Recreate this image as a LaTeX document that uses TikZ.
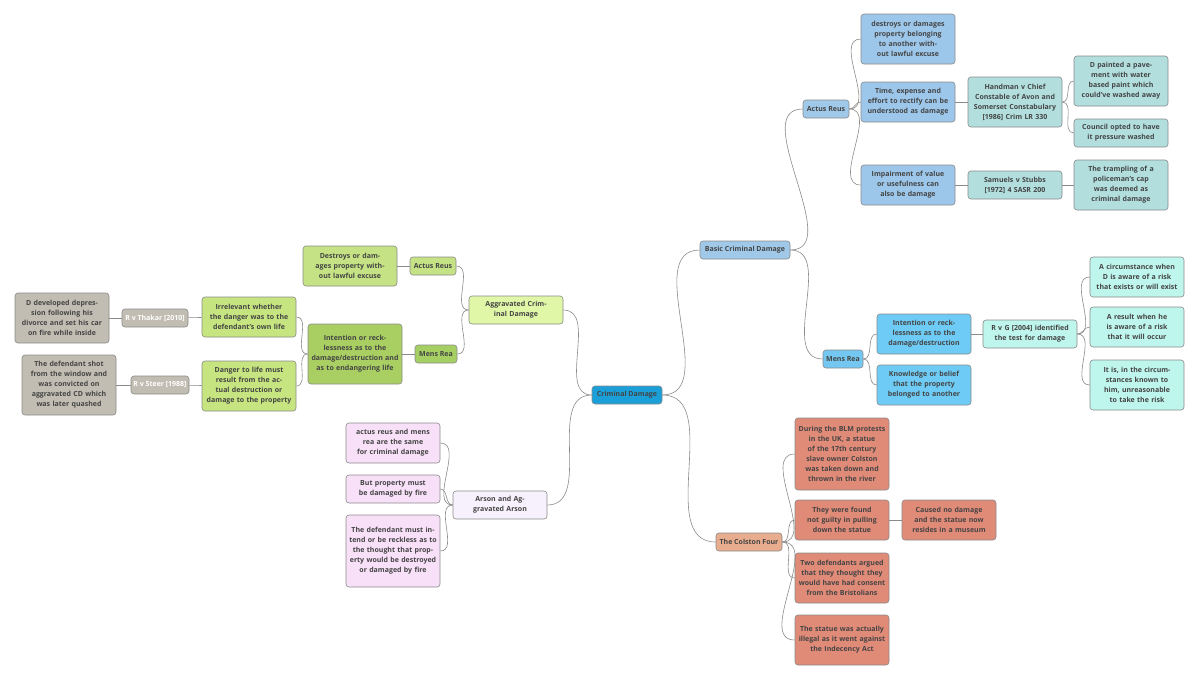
\documentclass[tikz,border=0pt]{standalone}
\usepackage{fontspec}
\setmainfont{Open Sans}
\definecolor{tx}{HTML}{444444}
\definecolor{ln}{HTML}{8A8A8A}
\begin{document}
\begin{tikzpicture}[x=1pt,y=-1pt,
 b/.style={draw=ln,rounded corners=3pt,line width=0.6pt,align=center,font=\fontsize{7}{10}\selectfont\bfseries,text=tx,inner sep=2pt,minimum height=18pt},
 w/.style={b,minimum width=94pt,text width=88pt},
 c/.style={draw=ln,line width=0.6pt},
 r/.style={c,out=0,in=180},
 l/.style={c,out=180,in=0}]
\useasboundingbox (0,0) rectangle (1200,681);
% root
\node[b,fill={rgb,255:red,26;green,159;blue,217},minimum width=70pt] (root) at (627,395) {Criminal Damage};
% basic
\node[b,fill={rgb,255:red,160;green,200;blue,232},minimum width=90pt] (bcd) at (745,250) {Basic Criminal Damage};
\node[b,fill={rgb,255:red,160;green,200;blue,232},minimum width=46pt] (ar) at (826,109) {Actus Reus};
\tikzset{bl/.style={w,fill={rgb,255:red,157;green,199;blue,234},minimum height=#1pt}, te/.style={w,fill={rgb,255:red,178;green,222;blue,222},minimum height=#1pt}}
\node[bl=50] (a1) at (908,39) {destroys or damages property belonging to another without lawful excuse};
\node[bl=40] (a2) at (908,102) {Time, expense and effort to rectify can be understood as damage};
\node[bl=40] (a3) at (908,185) {Impairment of value or usefulness can also be damage};
\node[te=50] (h) at (1015,102) {Handman v Chief Constable of Avon and Somerset Constabulary [1986] Crim LR 330};
\node[te=50] (h1) at (1121,81) {D painted a pavement with water based paint which could've washed away};
\node[te=28] (h2) at (1121,133) {Council opted to have it pressure washed};
\node[te=28] (s) at (1015,185) {Samuels v Stubbs [1972] 4 SASR 200};
\node[te=50] (s1) at (1121,185) {The trampling of a policeman's cap was deemed as criminal damage};
\node[b,fill={rgb,255:red,115;green,199;blue,240},minimum width=40pt] (mr) at (843,359) {Mens Rea};
\tikzset{mb/.style={w,fill={rgb,255:red,110;green,203;blue,245},minimum height=#1pt}, aq/.style={w,fill={rgb,255:red,190;green,245;blue,236},minimum height=#1pt}}
\node[mb=40] (m1) at (924,334) {Intention or recklessness as to the damage/destruction};
\node[mb=40] (m2) at (924,385) {Knowledge or belief that the property belonged to another};
\node[aq=28] (g) at (1030,334) {R v G [2004] identified the test for damage};
\node[aq=40] (g1) at (1137,277) {A circumstance when D is aware of a risk that exists or will exist};
\node[aq=40] (g2) at (1137,327) {A result when he is aware of a risk that it will occur};
\node[aq=50] (g3) at (1137,385) {It is, in the circumstances known to him, unreasonable to take the risk};
% colston
\node[b,fill={rgb,255:red,232;green,173;blue,142},minimum width=66pt] (cf) at (749,542) {The Colston Four};
\tikzset{rd/.style={w,fill={rgb,255:red,224;green,138;blue,120},minimum height=#1pt}}
\node[rd=72] (c1) at (842,454) {During the BLM protests in the UK, a statue of the 17th century slave owner Colston was taken down and thrown in the river};
\node[rd=40] (c2) at (842,520) {They were found not guilty in pulling down the statue};
\node[rd=40] (c3) at (949,520) {Caused no damage and the statue now resides in a museum};
\node[rd=50] (c4) at (842,578) {Two defendants argued that they thought they would have had consent from the Bristolians};
\node[rd=50] (c5) at (842,640) {The statue was actually illegal as it went against the Indecency Act};
% arson
\node[w,fill={rgb,255:red,246;green,241;blue,252},minimum height=28pt] (ars) at (500,505) {Arson and Aggravated Arson};
\tikzset{pk/.style={w,fill={rgb,255:red,248;green,225;blue,248},minimum height=#1pt}}
\node[pk=40] (p1) at (393,443) {actus reus and mens rea are the same for criminal damage};
\node[pk=28] (p2) at (393,489) {But property must be damaged by fire};
\node[pk=72] (p3) at (393,551) {The defendant must intend or be reckless as to the thought that property would be destroyed or damaged by fire};
% aggravated
\node[w,fill={rgb,255:red,224;green,247;blue,168},minimum height=28pt] (acd) at (516,310) {Aggravated Criminal Damage};
\node[b,fill={rgb,255:red,197;green,227;blue,132},minimum width=46pt] (aar) at (433,266) {Actus Reus};
\node[w,fill={rgb,255:red,197;green,227;blue,132},minimum height=40pt] (aa1) at (350,266) {Destroys or damages property without lawful excuse};
\node[b,fill={rgb,255:red,165;green,207;blue,98},minimum width=42pt] (amr) at (436,354) {Mens Rea};
\node[w,fill={rgb,255:red,169;green,207;blue,98},minimum height=60pt] (am) at (355,354) {Intention or recklessness as to the damage/destruction and as to endangering life};
\node[w,fill={rgb,255:red,198;green,229;blue,128},minimum height=40pt] (am1) at (249,317) {Irrelevant whether the danger was to the defendant's own life};
\node[w,fill={rgb,255:red,198;green,229;blue,128},minimum height=50pt] (am2) at (249,386) {Danger to life must result from the actual destruction or damage to the property};
\tikzset{gy/.style={b,fill={rgb,255:red,194;green,189;blue,178}}}
\node[gy,minimum width=66pt,text=white] (th) at (155,318) {R v Thakar [2010]};
\node[gy,minimum width=58pt,text=white] (st) at (160,385) {R v Steer [1988]};
\node[gy,minimum width=94pt,text width=88pt,minimum height=50pt] (th1) at (62,318) {D developed depression following his divorce and set his car on fire while inside};
\node[gy,minimum width=94pt,text width=88pt,minimum height=60pt] (st1) at (69,385) {The defendant shot from the window and was convicted on aggravated CD which was later quashed};
% connectors
\draw[r] (root.east) to (bcd.west);
\draw[r] (root.east) to (cf.west);
\draw[l] (root.west) to (acd.east);
\draw[l] (root.west) to (ars.east);
\draw[r] (bcd.east) to (ar.west);
\draw[r] (bcd.east) to (mr.west);
\draw[r] (ar.east) to (a1.west);
\draw[r] (ar.east) to (a2.west);
\draw[r] (ar.east) to (a3.west);
\draw[c] (a2) -- (h); \draw[c] (a3) -- (s); \draw[c] (s) -- (s1);
\draw[r] (h.east) to (h1.west); \draw[r] (h.east) to (h2.west);
\draw[r] (mr.east) to (m1.west); \draw[r] (mr.east) to (m2.west);
\draw[c] (m1) -- (g);
\draw[r] (g.east) to (g1.west); \draw[r] (g.east) to (g2.west); \draw[r] (g.east) to (g3.west);
\draw[r] (cf.east) to (c1.west); \draw[c] (cf.east) to[out=0,in=180] (c2.west);
\draw[r] (cf.east) to (c4.west); \draw[r] (cf.east) to (c5.west);
\draw[c] (c2) -- (c3);
\draw[l] (ars.west) to (p1.east); \draw[l] (ars.west) to (p2.east); \draw[l] (ars.west) to (p3.east);
\draw[l] (acd.west) to (aar.east); \draw[l] (acd.west) to (amr.east);
\draw[c] (aar) -- (aa1); \draw[c] (amr) -- (am);
\draw[l] (am.west) to (am1.east); \draw[l] (am.west) to (am2.east);
\draw[c] (am1) -- (th); \draw[c] (th) -- (th1);
\draw[c] (am2) -- (st); \draw[c] (st) -- (st1);
\end{tikzpicture}
\end{document}
